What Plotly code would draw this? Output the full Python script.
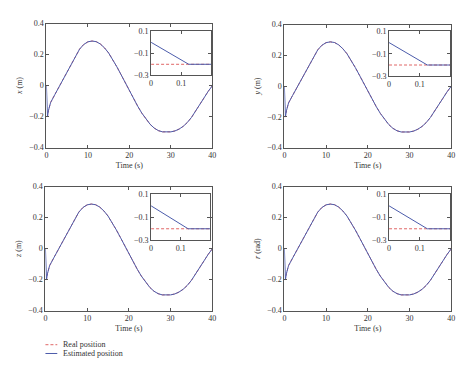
import plotly.graph_objects as go

# ---- data ----
time_real = [0, 0.25, 0.5, 1, 2, 3, 4, 5, 6, 7, 8, 9, 10, 11, 12, 13, 14, 15, 16, 17, 18, 19, 20,
             21, 22, 23, 24, 25, 26, 27, 28, 29, 30, 31, 32, 33, 34, 35, 36, 37, 38, 39, 40]
pos_real = [-0.2, -0.2, -0.16, -0.11, -0.06, -0.01, 0.04, 0.09, 0.145, 0.195, 0.235, 0.265,
            0.282, 0.287, 0.283, 0.268, 0.243, 0.21, 0.168, 0.12, 0.07, 0.018, -0.033,
            -0.085, -0.133, -0.178, -0.217, -0.25, -0.275, -0.291, -0.299, -0.301, -0.299,
            -0.293, -0.281, -0.263, -0.238, -0.205, -0.166, -0.123, -0.08, -0.038, -0.002]

# estimated position: starts at 0, converges to the real position at ~0.125 s
time_est_start = [0, 0.125]
pos_est_start = [0.0, -0.2]
time_est = time_est_start + time_real[1:]
pos_est = pos_est_start + pos_real[1:]

series_names = ["Real position", "Estimated position"]
y_titles = ["<i>x</i> (m)", "<i>y</i> (m)", "<i>z</i> (m)", "<i>r</i> (rad)"]
main_yticks = [-0.4, -0.2, 0, 0.2, 0.4]
main_yticktext = ["\u22120.4", "\u22120.2", "0", "0.2", "0.4"]
main_xticks = [0, 10, 20, 30, 40]
inset_yticks = [-0.3, -0.1, 0.1]
inset_yticktext = ["\u22120.3", "\u22120.1", "0.1"]
inset_xticks = [0, 0.1]

W, H = 474, 379
def px(x0, x1):
    return [x0 / W, x1 / W]
def py(ytop, ybot):
    return [1 - ybot / H, 1 - ytop / H]

main_dom = [
    (px(45, 213), py(20, 147)),
    (px(286, 455), py(21, 147)),
    (px(44, 213), py(187, 314)),
    (px(286, 455), py(187, 314)),
]
inset_dom = [
    (px(151, 212), py(28, 73)),
    (px(392, 454), py(28, 74)),
    (px(151, 211), py(195, 242)),
    (px(392, 454), py(195, 242)),
]

RED = "#e06666"
BLUE = "#4c5cab"
FONT = "Liberation Serif"
AX = "#555555"
TXT = "#333333"
FS = 8

fig = go.Figure()
layout = dict(
    width=W, height=H, margin=dict(l=0, r=0, t=0, b=0),
    paper_bgcolor="white", plot_bgcolor="white",
    font=dict(family=FONT, size=FS, color=TXT),
    showlegend=False,
)

def axis_style(domain, anchor, **kw):
    d = dict(domain=domain, anchor=anchor, showgrid=False, zeroline=False,
             showline=True, linecolor=AX, linewidth=1, mirror="allticks",
             ticks="inside", ticklen=3, tickcolor=AX,
             tickfont=dict(family=FONT, size=FS, color=TXT))
    d.update(kw)
    return d

DASH = "3px,2px"
for i in range(4):
    n_main = 2 * i + 1
    n_ins = 2 * i + 2
    xa = "x" if n_main == 1 else f"x{n_main}"
    ya = "y" if n_main == 1 else f"y{n_main}"
    xi = f"x{n_ins}"
    yi = f"y{n_ins}"
    fig.add_trace(go.Scatter(x=time_real, y=pos_real, mode="lines", name=series_names[0],
                             line=dict(color=RED, width=1, dash=DASH), xaxis=xa, yaxis=ya))
    fig.add_trace(go.Scatter(x=time_est, y=pos_est, mode="lines", name=series_names[1],
                             line=dict(color=BLUE, width=1), xaxis=xa, yaxis=ya))
    fig.add_trace(go.Scatter(x=time_real, y=pos_real, mode="lines", name=series_names[0],
                             line=dict(color=RED, width=1, dash=DASH), xaxis=xi, yaxis=yi))
    fig.add_trace(go.Scatter(x=time_est, y=pos_est, mode="lines", name=series_names[1],
                             line=dict(color=BLUE, width=1), xaxis=xi, yaxis=yi))

    xk = "xaxis" if n_main == 1 else f"xaxis{n_main}"
    yk = "yaxis" if n_main == 1 else f"yaxis{n_main}"
    md, mr = main_dom[i]
    layout[xk] = axis_style(md, ya, range=[0, 40], tickvals=main_xticks,
                            title=dict(text="Time (s)", font=dict(family=FONT, size=FS), standoff=3))
    layout[yk] = axis_style(mr, xa, range=[-0.4, 0.4], tickvals=main_yticks,
                            ticktext=main_yticktext,
                            title=dict(text=y_titles[i], font=dict(family=FONT, size=FS), standoff=5))
    idom, irng = inset_dom[i]
    layout[f"xaxis{n_ins}"] = axis_style(idom, yi, range=[0, 0.2], tickvals=inset_xticks)
    layout[f"yaxis{n_ins}"] = axis_style(irng, xi, range=[-0.3, 0.1], tickvals=inset_yticks,
                                         ticktext=inset_yticktext)

# legend (drawn compactly as in the reference)
leg_rows = [(349, RED, "dash"), (358, BLUE, "solid")]
shapes = []
annotations = []
for (yy, col, dsh), name in zip(leg_rows, series_names):
    shapes.append(dict(type="line", xref="paper", yref="paper",
                       x0=44 / W, x1=56 / W, y0=1 - yy / H, y1=1 - yy / H,
                       line=dict(color=col, width=1, dash=DASH if dsh == "dash" else "solid")))
    annotations.append(dict(text=name, xref="paper", yref="paper", x=60 / W, y=1 - yy / H,
                            xanchor="left", yanchor="middle", showarrow=False,
                            font=dict(family=FONT, size=FS, color=TXT)))
layout["shapes"] = shapes
layout["annotations"] = annotations

fig.update_layout(**layout)
fig.write_html("out.html", config={"displayModeBar": False},
               post_script="document.body.style.margin='0';document.body.style.overflow='hidden';")
